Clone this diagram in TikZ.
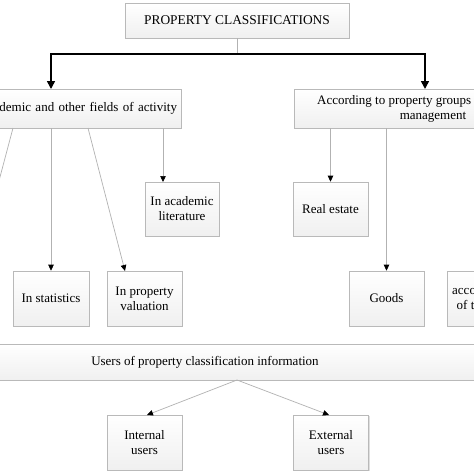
\documentclass[tikz,border=0pt]{standalone}
\usepackage{fontspec}
\setmainfont{Liberation Serif}
\usetikzlibrary{arrows.meta,shadows}
\tikzset{
  box/.style={draw=gray!55, line width=0.6pt, top color=white, bottom color=gray!12,
    drop shadow={shadow xshift=1.2pt, shadow yshift=-1.2pt, opacity=0.35, fill=gray!70},
    font=\fontsize{13}{15}\selectfont, text=black, align=center, inner sep=3pt},
  thinline/.style={draw=gray!60, line width=0.7pt},
  thinarrow/.style={thinline, -{Triangle[width=5.5pt,length=6pt,color=black]}},
  thickarrow/.style={draw=black, line width=1.6pt, -{Triangle[width=8pt,length=8pt]}},
}
\begin{document}
\begin{tikzpicture}[x=1pt,y=-1pt]
\useasboundingbox (0,0) rectangle (474,474);
\clip (0,0) rectangle (474,474);
\fill[white] (0,0) rectangle (474,474);

% boxes
\node[box, minimum width=224pt, minimum height=35pt, font=\fontsize{13.4}{15}\selectfont] (top) at (237,20.5) {PROPERTY CLASSIFICATIONS};
\node[box, minimum width=331pt, minimum height=39pt, text width=323pt, align=right] (acad) at (15.5,108.5) {According to academic and other fields of activity};
\node[box, minimum width=278pt, minimum height=39pt] (grp) at (433,108.5) {According to property groups and their asset\\management};

\node[box, minimum width=74pt, minimum height=54pt] (lit) at (182,209) {In academic\\literature};
\node[box, minimum width=76pt, minimum height=55pt] (stat) at (51,298.5) {In statistics};
\node[box, minimum width=75pt, minimum height=55pt] (val) at (144.5,298.5) {In property\\valuation};

\node[box, minimum width=75pt, minimum height=54pt] (real) at (330.5,209) {Real estate};
\node[box, minimum width=75pt, minimum height=55pt] (goods) at (386.5,298.5) {Goods};
\node[box, minimum width=75pt, minimum height=55pt] (acc) at (484.5,298.5) {according to\\of the type};

\node[box, minimum width=570pt, minimum height=36pt] (users) at (205,362) {Users of property classification information};

\node[box, minimum width=75pt, minimum height=55pt] (int) at (144.5,442.5) {Internal\\users};
\node[box, minimum width=75pt, minimum height=55pt] (ext) at (331,442.5) {External\\users};

% top connectors
\coordinate (j) at (237,54);
\coordinate (jr) at (425,89);
\coordinate (jl) at (51,89);
\draw[thinline] (top.south) -- (j);
\draw[thickarrow] (j) -| (jl);
\draw[thickarrow] (j) -| (jr);

% left branch
\coordinate (a1) at (13,128);
\coordinate (a1e) at (-13,226);
\coordinate (a2) at (51,128);
\coordinate (a3) at (88,128);
\coordinate (a3e) at (125,271);
\coordinate (a4) at (163,128);
\coordinate (a4e) at (163,182);
\draw[thinline] (a1) -- (a1e);
\draw[thinarrow] (a2) -- (stat.north);
\draw[thinarrow] (a3) -- (a3e);
\draw[thinarrow] (a4) -- (a4e);

% right branch
\draw[thinarrow] (real.north |- grp.south) -- (real.north);
\draw[thinarrow] (goods.north |- grp.south) -- (goods.north);

% users
\coordinate (u) at (237,380);
\coordinate (ui) at (147,415);
\coordinate (ue) at (329,415);
\draw[thinarrow] (u) -- (ui);
\draw[thinarrow] (u) -- (ue);
\end{tikzpicture}
\end{document}
